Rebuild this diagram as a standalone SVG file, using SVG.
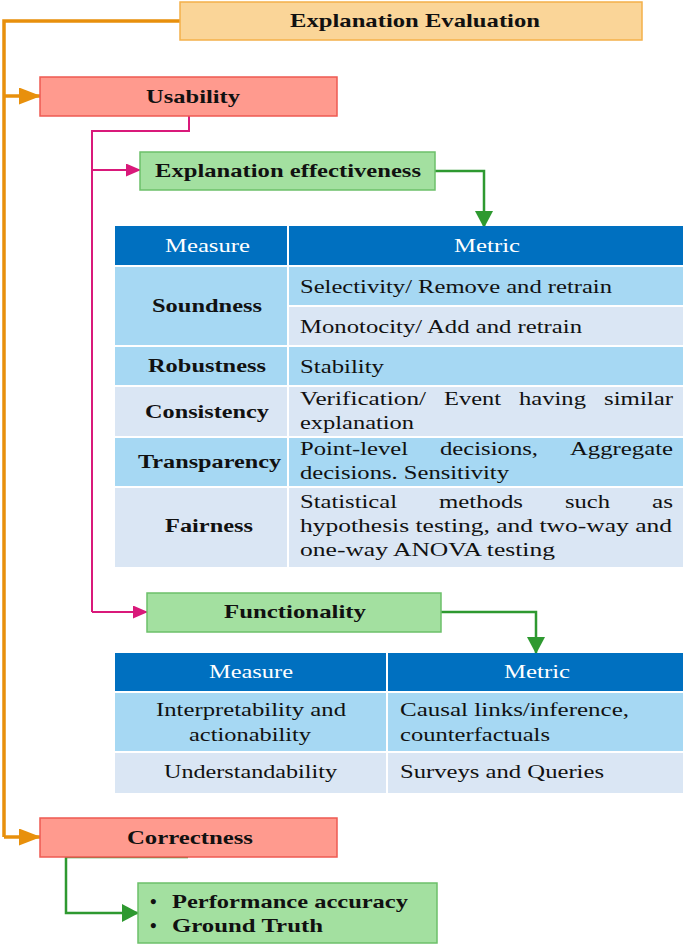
<svg xmlns="http://www.w3.org/2000/svg" width="685" height="946" viewBox="0 0 685 946">
<defs>
<style>
.t{font-family:"Liberation Serif","Times New Roman",serif;fill:#111;}
.b{font-weight:bold;font-size:19px;}
.m{font-weight:bold;font-size:18px;}
.r{font-size:18px;}
.h{font-size:18px;fill:#fff;}
.org{fill:#FAD598;stroke:#F4B04A;stroke-width:1.5;}
.red{fill:#FF9A8E;stroke:#EE5A52;stroke-width:1.5;}
.grn{fill:#A3E0A0;stroke:#6CC06A;stroke-width:1.5;}
.hd{fill:#0070C0;}
.lb{fill:#A6D8F3;}
.pl{fill:#DAE6F4;}
.sep{stroke:#fff;stroke-width:2;fill:none;}
</style>
<marker id="ao" markerWidth="22" markerHeight="17" refX="21" refY="8.5" orient="auto" markerUnits="userSpaceOnUse"><path d="M0,0 L22,8.5 L0,17 z" fill="#E8900C"/></marker>
<marker id="am" markerWidth="15" markerHeight="13" refX="14" refY="6.5" orient="auto" markerUnits="userSpaceOnUse"><path d="M0,0 L15,6.5 L0,13 z" fill="#D9197A"/></marker>
<marker id="ag" markerWidth="17" markerHeight="18" refX="16" refY="9" orient="auto" markerUnits="userSpaceOnUse"><path d="M0,0 L17,9 L0,18 z" fill="#2E9930"/></marker>
</defs>
<rect width="685" height="946" fill="#fff"/>

<g id="connectors" fill="none">
<path d="M180,21 H4 V837" stroke="#E8900C" stroke-width="3.5"/>
<path d="M4,96 H40" stroke="#E8900C" stroke-width="3.5" marker-end="url(#ao)"/>
<path d="M4,837 H40" stroke="#E8900C" stroke-width="3.5" marker-end="url(#ao)"/>
<path d="M189,116 V131 H92 V612" stroke="#D9197A" stroke-width="2"/>
<path d="M92,170 H140" stroke="#D9197A" stroke-width="2" marker-end="url(#am)"/>
<path d="M92,612 H147" stroke="#D9197A" stroke-width="2" marker-end="url(#am)"/>
<path d="M435,171 H484 V227" stroke="#2E9930" stroke-width="2.5" marker-end="url(#ag)"/>
<path d="M441,612 H536 V653" stroke="#2E9930" stroke-width="2.5" marker-end="url(#ag)"/>
<path d="M188,857 H66 V913 H138" stroke="#2E9930" stroke-width="2.5" marker-end="url(#ag)"/>
</g>

<g id="explanation-evaluation">
<rect class="org" x="180" y="2" width="462" height="38"/>
<text class="t b" x="290" y="27" textLength="250" lengthAdjust="spacingAndGlyphs">Explanation Evaluation</text>
</g>

<g id="usability">
<rect class="red" x="40" y="77" width="297" height="39"/>
<text class="t b" x="146" y="103" textLength="94" lengthAdjust="spacingAndGlyphs">Usability</text>
</g>

<g id="explanation-effectiveness">
<rect class="grn" x="140" y="152" width="295" height="38"/>
<text class="t b" x="155" y="177" textLength="266" lengthAdjust="spacingAndGlyphs">Explanation effectiveness</text>
</g>

<g id="table-effectiveness">
<rect class="hd" x="115" y="226" width="568" height="40"/>
<rect class="lb" x="115" y="266" width="568" height="40"/>
<rect class="lb" x="115" y="306" width="173" height="40"/>
<rect class="pl" x="288" y="306" width="395" height="40"/>
<rect class="lb" x="115" y="346" width="568" height="40"/>
<rect class="pl" x="115" y="386" width="568" height="51"/>
<rect class="lb" x="115" y="437" width="568" height="50"/>
<rect class="pl" x="115" y="487" width="568" height="80"/>
<path class="sep" d="M288,226 V567 M115,266 H683 M288,306 H683 M115,346 H683 M115,386 H683 M115,437 H683 M115,487 H683"/>
<text class="t h" x="165" y="252" textLength="85" lengthAdjust="spacingAndGlyphs">Measure</text>
<text class="t h" x="454" y="252" textLength="66" lengthAdjust="spacingAndGlyphs">Metric</text>
<text class="t m" x="152" y="312" textLength="110" lengthAdjust="spacingAndGlyphs">Soundness</text>
<text class="t r" x="300" y="293" textLength="312" lengthAdjust="spacingAndGlyphs">Selectivity/ Remove and retrain</text>
<text class="t r" x="300" y="333" textLength="282" lengthAdjust="spacingAndGlyphs">Monotocity/ Add and retrain</text>
<text class="t m" x="148" y="372" textLength="118" lengthAdjust="spacingAndGlyphs">Robustness</text>
<text class="t r" x="300" y="373" textLength="84" lengthAdjust="spacingAndGlyphs">Stability</text>
<text class="t m" x="145" y="418" textLength="124" lengthAdjust="spacingAndGlyphs">Consistency</text>
<text class="t r" x="300" y="405" textLength="126" lengthAdjust="spacingAndGlyphs">Verification/</text>
<text class="t r" x="444" y="405" textLength="57" lengthAdjust="spacingAndGlyphs">Event</text>
<text class="t r" x="519" y="405" textLength="67" lengthAdjust="spacingAndGlyphs">having</text>
<text class="t r" x="604" y="405" textLength="69" lengthAdjust="spacingAndGlyphs">similar</text>
<text class="t r" x="300" y="429" textLength="114" lengthAdjust="spacingAndGlyphs">explanation</text>
<text class="t m" x="138" y="468" textLength="143" lengthAdjust="spacingAndGlyphs">Transparency</text>
<text class="t r" x="300" y="455" textLength="108" lengthAdjust="spacingAndGlyphs">Point-level</text>
<text class="t r" x="440" y="455" textLength="98" lengthAdjust="spacingAndGlyphs">decisions,</text>
<text class="t r" x="570" y="455" textLength="103" lengthAdjust="spacingAndGlyphs">Aggregate</text>
<text class="t r" x="300" y="479" textLength="209" lengthAdjust="spacingAndGlyphs">decisions. Sensitivity</text>
<text class="t m" x="165" y="532" textLength="88" lengthAdjust="spacingAndGlyphs">Fairness</text>
<text class="t r" x="300" y="508" textLength="97" lengthAdjust="spacingAndGlyphs">Statistical</text>
<text class="t r" x="439" y="508" textLength="84" lengthAdjust="spacingAndGlyphs">methods</text>
<text class="t r" x="565" y="508" textLength="45" lengthAdjust="spacingAndGlyphs">such</text>
<text class="t r" x="652" y="508" textLength="21" lengthAdjust="spacingAndGlyphs">as</text>
<text class="t r" x="300" y="532" textLength="372" lengthAdjust="spacingAndGlyphs">hypothesis testing, and two-way and</text>
<text class="t r" x="300" y="556" textLength="255" lengthAdjust="spacingAndGlyphs">one-way ANOVA testing</text>
</g>

<g id="functionality">
<rect class="grn" x="147" y="593" width="294" height="39"/>
<text class="t b" x="224" y="618" textLength="142" lengthAdjust="spacingAndGlyphs">Functionality</text>
</g>

<g id="table-functionality">
<rect class="hd" x="115" y="653" width="568" height="39"/>
<rect class="lb" x="115" y="692" width="568" height="60"/>
<rect class="pl" x="115" y="752" width="568" height="41"/>
<path class="sep" d="M387,653 V793 M115,692 H683 M115,752 H683"/>
<text class="t h" x="209" y="678" textLength="84" lengthAdjust="spacingAndGlyphs">Measure</text>
<text class="t h" x="504" y="678" textLength="66" lengthAdjust="spacingAndGlyphs">Metric</text>
<text class="t r" x="156" y="716" textLength="190" lengthAdjust="spacingAndGlyphs">Interpretability and</text>
<text class="t r" x="189" y="741" textLength="122" lengthAdjust="spacingAndGlyphs">actionability</text>
<text class="t r" x="400" y="716" textLength="229" lengthAdjust="spacingAndGlyphs">Causal links/inference,</text>
<text class="t r" x="400" y="741" textLength="150" lengthAdjust="spacingAndGlyphs">counterfactuals</text>
<text class="t r" x="164" y="778" textLength="173" lengthAdjust="spacingAndGlyphs">Understandability</text>
<text class="t r" x="400" y="778" textLength="204" lengthAdjust="spacingAndGlyphs">Surveys and Queries</text>
</g>

<g id="correctness">
<rect class="red" x="40" y="818" width="297" height="39"/>
<text class="t b" x="127" y="844" textLength="126" lengthAdjust="spacingAndGlyphs">Correctness</text>
</g>

<g id="correctness-items">
<rect class="grn" x="138" y="883" width="299" height="60"/>
<text class="t b" x="150" y="908">•</text>
<text class="t b" x="172" y="908" textLength="236" lengthAdjust="spacingAndGlyphs">Performance accuracy</text>
<text class="t b" x="150" y="932">•</text>
<text class="t b" x="172" y="932" textLength="151" lengthAdjust="spacingAndGlyphs">Ground Truth</text>
</g>
</svg>
